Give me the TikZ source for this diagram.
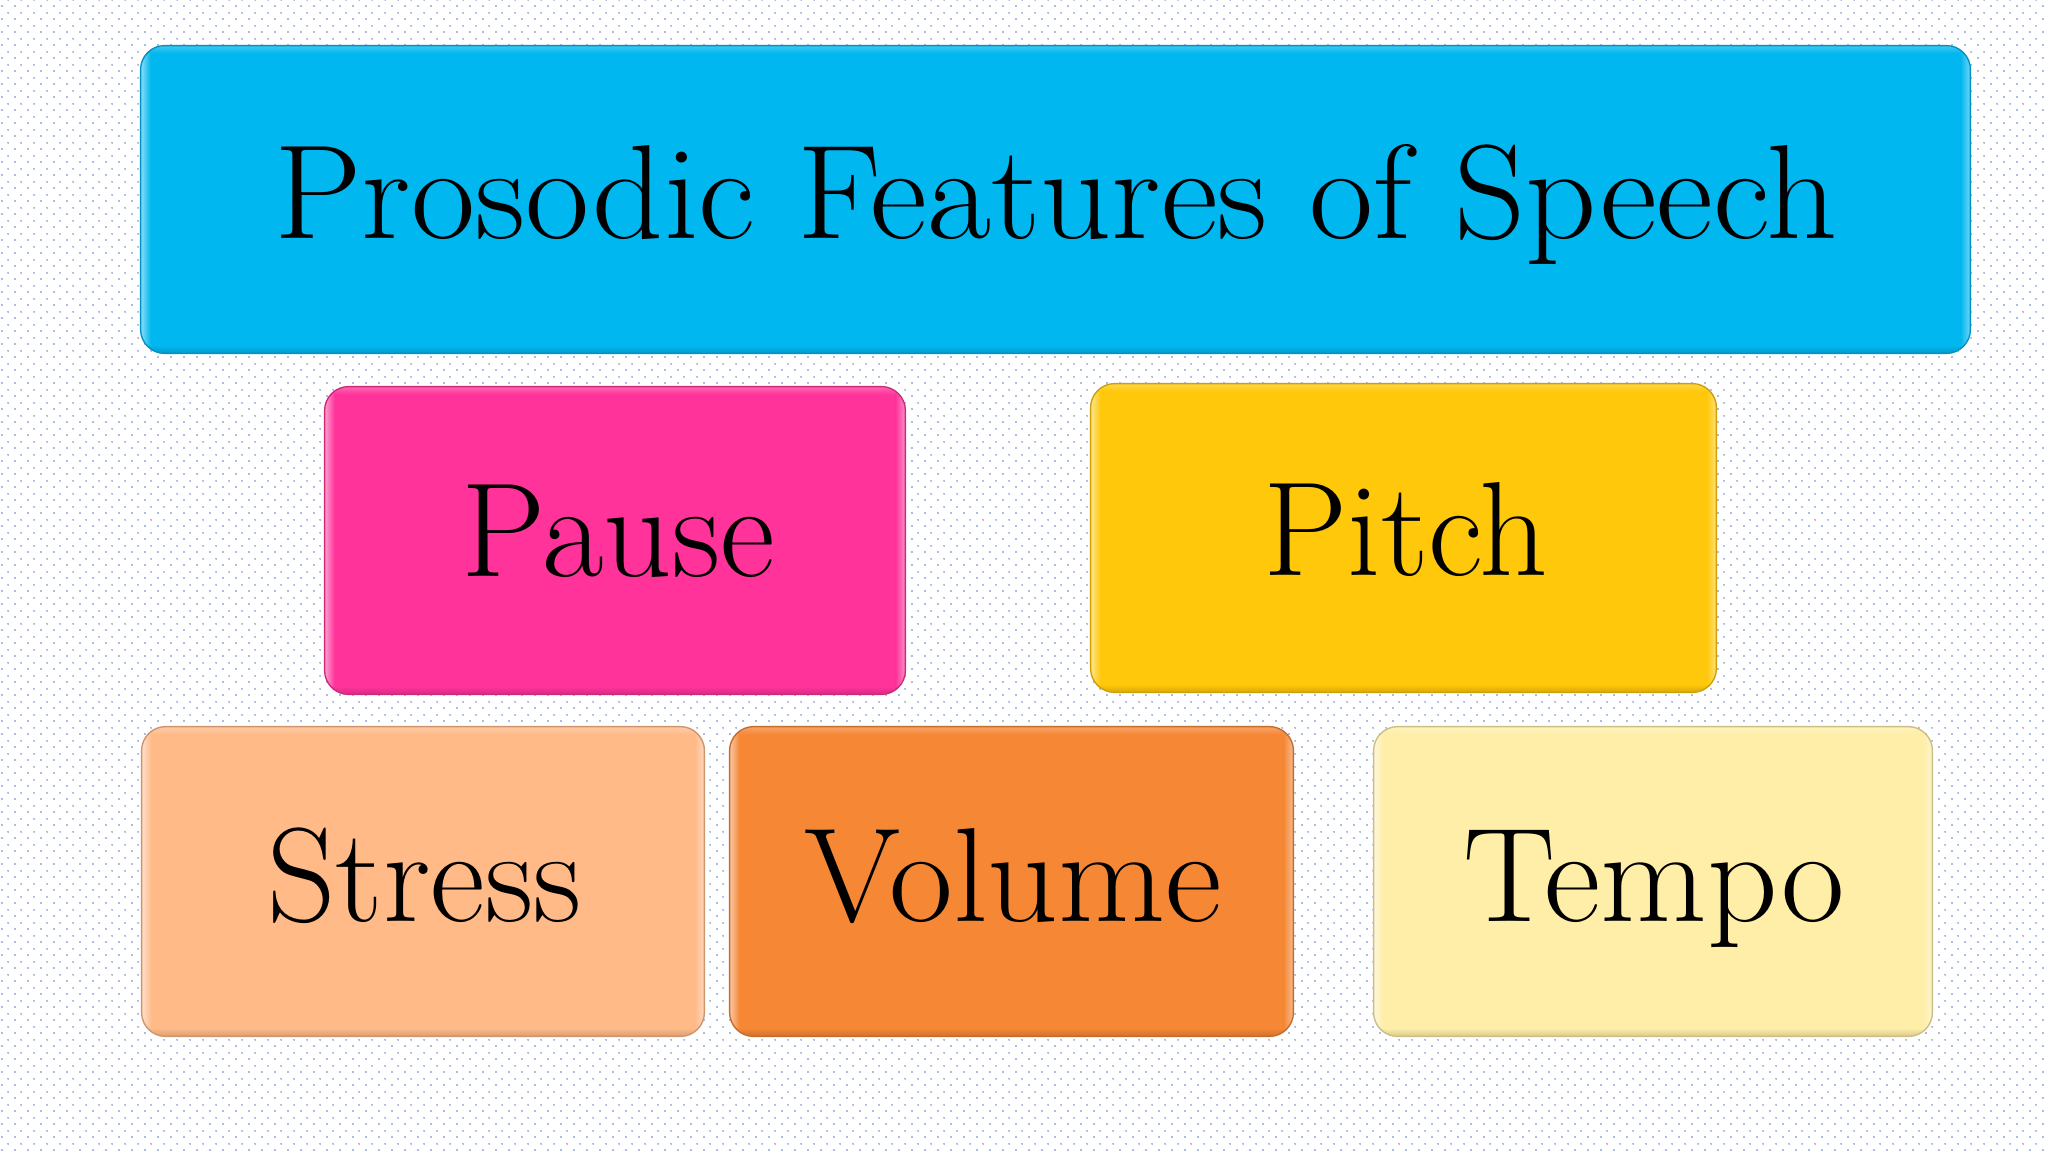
\documentclass[tikz,border=0pt]{standalone}
\usetikzlibrary{patterns}
\definecolor{bgdot}{RGB}{85,125,195}
\definecolor{ctitle}{RGB}{0,183,240}
\definecolor{cpause}{RGB}{255,51,154}
\definecolor{cpitch}{RGB}{255,200,10}
\definecolor{cstress}{RGB}{255,186,136}
\definecolor{cvolume}{RGB}{245,135,53}
\definecolor{ctempo}{RGB}{254,238,168}
\pgfdeclarepatternformonly{sdots}{\pgfpointorigin}{\pgfpoint{6.5pt}{6.5pt}}{\pgfpoint{6.5pt}{6.5pt}}{%
  \pgfpathcircle{\pgfpoint{1.625pt}{1.625pt}}{0.45pt}%
  \pgfpathcircle{\pgfpoint{4.875pt}{4.875pt}}{0.45pt}%
  \pgfusepath{fill}}
\tikzset{
  bevbox/.style={rectangle, rounded corners=12pt, fill=#1, inner sep=0pt},
  rimline/.style={rounded corners=12pt, line width=0.7pt},
  lbl/.style={anchor=base, inner sep=0pt, font=\fontsize{67}{80}\selectfont}
}
\newcommand\mybevel[2]{%
  \begin{scope}
    \clip[rounded corners=12pt] (#1.south west) rectangle (#1.north east);
    \shade[left color=white, right color=#2, opacity=0.55] (#1.south west) rectangle ([xshift=5pt]#1.north west);
    \shade[left color=#2, right color=white, opacity=0.45] ([xshift=-5pt]#1.south east) rectangle (#1.north east);
    \shade[top color=#2, bottom color=#2!70!black, opacity=0.5] (#1.south west) rectangle ([yshift=4pt]#1.south east);
    \shade[top color=white, bottom color=#2, opacity=0.25] ([yshift=-4pt]#1.north west) rectangle (#1.north east);
  \end{scope}
  \draw[rimline, draw=#2!80!black] (#1.south west) rectangle (#1.north east);
}
\begin{document}
\begin{tikzpicture}[x=0.5pt,y=-0.5pt]
\useasboundingbox (0,0) rectangle (2048,1152);
\fill[white] (0,0) rectangle (2048,1152);
\fill[pattern=sdots, pattern color=bgdot] (0,0) rectangle (2048,1152);
% boxes
\node[bevbox=ctitle, minimum width=914.5pt, minimum height=153.5pt] (title) at (1055.5,199.5) {};
\node[bevbox=cpause, minimum width=290pt, minimum height=153.5pt] (pause) at (615,540.5) {};
\node[bevbox=cpitch, minimum width=312.5pt, minimum height=154pt] (pitch) at (1403.5,538) {};
\node[bevbox=cstress, minimum width=281pt, minimum height=154.5pt] (stress) at (423,881.5) {};
\node[bevbox=cvolume, minimum width=281.5pt, minimum height=154.5pt] (volume) at (1011.5,881.5) {};
\node[bevbox=ctempo, minimum width=279pt, minimum height=154.5pt] (tempo) at (1653,881.5) {};
\mybevel{title}{ctitle}
\mybevel{pause}{cpause}
\mybevel{pitch}{cpitch}
\mybevel{stress}{cstress}
\mybevel{volume}{cvolume}
\mybevel{tempo}{ctempo}
% labels
\node[lbl] (titlet) at (1056,238) {\scalebox{1.04}[1]{Prosodic Features of Speech}};
\node[lbl] (pauset) at (618,576) {Pause};
\node[lbl] (pitcht) at (1406,575) {Pitch};
\node[lbl] (stresst) at (424.5,921) {Stress};
\node[lbl] (volumet) at (1013,921) {\scalebox{1.035}[1]{Volume}};
\node[lbl] (tempot) at (1654,921) {\scalebox{1.03}[1]{Tempo}};
\end{tikzpicture}
\end{document}
